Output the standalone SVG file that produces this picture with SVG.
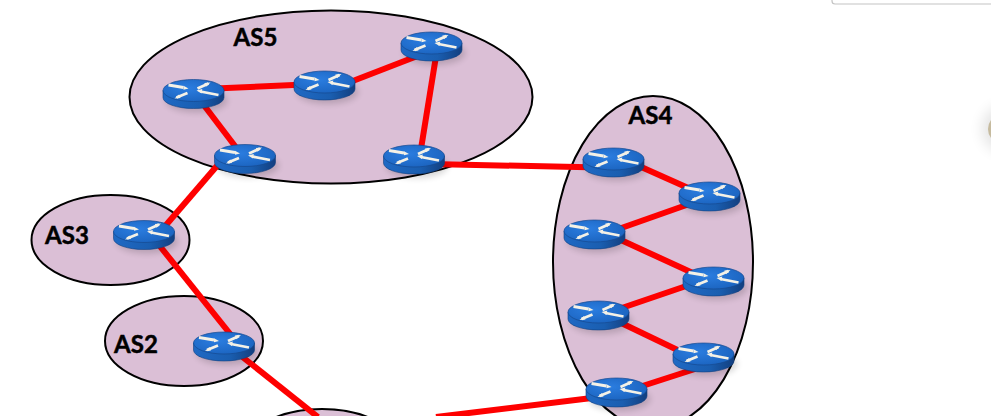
<svg xmlns="http://www.w3.org/2000/svg" width="991" height="416" viewBox="0 0 991 416">
<style>
.as{fill:#dbbfd6;stroke:#000;stroke-width:2}
.lk{stroke:#fe0000;stroke-width:6;fill:none}
.lb{font-family:"Lato","Liberation Sans",sans-serif;font-weight:700;font-size:24px;fill:#000;stroke:#000;stroke-width:0.500;text-anchor:middle}
.ar{stroke:#f4f1e6;stroke-width:2.800;fill:none}
.hd{fill:#f4f1e6}
</style>
<defs>
<linearGradient id="side" x1="0" y1="0" x2="1" y2="0"><stop offset="0" stop-color="#1f69c4"/><stop offset="0.6" stop-color="#1a5eb0"/><stop offset="1" stop-color="#123f80"/></linearGradient>
<radialGradient id="top" cx="0.4" cy="0.4" r="0.7"><stop offset="0" stop-color="#2b7de0"/><stop offset="1" stop-color="#1a62bd"/></radialGradient>
<filter id="sh" x="-30%" y="-30%" width="160%" height="170%"><feGaussianBlur stdDeviation="3"/></filter>
<filter id="sh2" x="-100%" y="-100%" width="300%" height="300%"><feGaussianBlur stdDeviation="7"/></filter>
<g id="router">
<ellipse cx="3" cy="10" rx="31" ry="12" fill="#000" opacity="0.16" filter="url(#sh)"/>
<path d="M-30.500 0V7A30.500 11 0 0 0 30.500 7V0Z" fill="url(#side)" stroke="#123f80" stroke-width="0.600"/>
<ellipse rx="30.500" ry="11" fill="url(#top)" stroke="#15498f" stroke-width="0.700"/>
<path class="ar" d="M-25-5.500L-10-3M-17 7L-6 2.500M4-2L15-7M7 1L25 4.500"/>
<path class="hd" d="M-5-2L-10-4.800L-10-0.800ZM-19 8L-13 7.500L-14.500 4ZM17-8L12.500-3.800L10.800-7.500ZM3 0L8 3L8.800-1.500Z"/>
</g>
</defs>
<g id="background-ui">
<rect x="832" y="-8" width="170" height="12" rx="3" fill="#fff" stroke="#c4c4c4" stroke-width="1.200"/>
<ellipse cx="1006" cy="129" rx="24" ry="24" fill="#000" opacity="0.1" filter="url(#sh2)"/>
<circle cx="1003" cy="129" r="15" fill="#c6bb9f"/>
</g>
<g id="as-regions">
<ellipse id="as5" class="as" cx="331" cy="97" rx="201.500" ry="86.500"/>
<ellipse id="as4" class="as" cx="653" cy="262" rx="100" ry="166"/>
<ellipse id="as3" class="as" cx="110.500" cy="240" rx="79" ry="45"/>
<ellipse id="as2" class="as" cx="184" cy="341" rx="79" ry="45"/>
<ellipse id="as1" class="as" cx="322" cy="454" rx="80" ry="45"/>
</g>
<g id="connectors">
<line class="lk" x1="215" y1="88.500" x2="305" y2="84.500"/>
<line class="lk" x1="345" y1="84" x2="420" y2="55"/>
<line class="lk" x1="437" y1="50" x2="420" y2="155"/>
<line class="lk" x1="203" y1="104" x2="238" y2="150"/>
<line class="lk" x1="222" y1="160" x2="160" y2="232"/>
<line class="lk" x1="155" y1="240" x2="235" y2="340"/>
<line class="lk" x1="240" y1="355" x2="318" y2="417"/>
<line class="lk" x1="430" y1="164" x2="600" y2="167.500"/>
<line class="lk" x1="630" y1="162" x2="695" y2="191"/>
<line class="lk" x1="695" y1="202" x2="610" y2="232"/>
<line class="lk" x1="610" y1="235" x2="695" y2="274"/>
<line class="lk" x1="695" y1="283" x2="610" y2="312"/>
<line class="lk" x1="615" y1="320" x2="690" y2="356"/>
<line class="lk" x1="695" y1="369" x2="630" y2="390"/>
<line class="lk" x1="600" y1="397" x2="436" y2="417"/>
</g>
<use id="r1" href="#router" x="193.500" y="90.500"/>
<use id="r2" href="#router" x="324.500" y="82"/>
<use id="r3" href="#router" x="431.500" y="43"/>
<use id="r4" href="#router" x="245" y="155.500"/>
<use id="r5" href="#router" x="414" y="156"/>
<use id="r6" href="#router" x="613.500" y="159"/>
<use id="r7" href="#router" x="709.500" y="193"/>
<use id="r8" href="#router" x="594.500" y="231"/>
<use id="r9" href="#router" x="713.500" y="278"/>
<use id="r10" href="#router" x="598.500" y="312"/>
<use id="r11" href="#router" x="703.500" y="354"/>
<use id="r12" href="#router" x="616.500" y="389"/>
<use id="r13" href="#router" x="144" y="231.500"/>
<use id="r14" href="#router" x="224" y="343"/>
<g id="labels">
<text class="lb" x="255.500" y="46">AS5</text>
<text class="lb" x="650.500" y="123.500">AS4</text>
<text class="lb" x="67" y="243.500">AS3</text>
<text class="lb" x="136" y="352.500">AS2</text>
</g>
</svg>
